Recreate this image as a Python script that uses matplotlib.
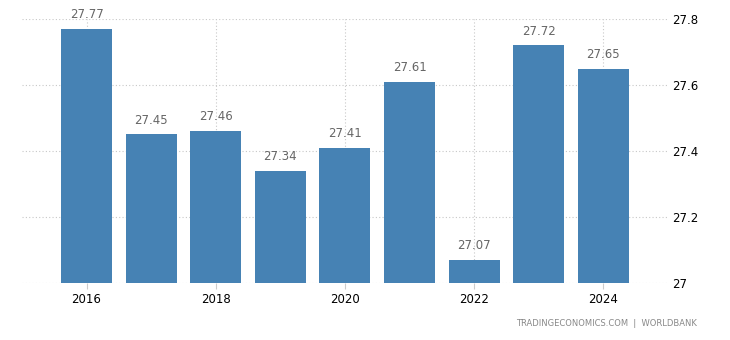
import matplotlib
matplotlib.use("Agg")
import matplotlib.pyplot as plt

years = [2016, 2017, 2018, 2019, 2020, 2021, 2022, 2023, 2024]
values = [27.77, 27.45, 27.46, 27.34, 27.41, 27.61, 27.07, 27.72, 27.65]
xticks = [2016, 2018, 2020, 2022, 2024]
yticks = [27.0, 27.2, 27.4, 27.6, 27.8]
ytick_labels = ["27", "27.2", "27.4", "27.6", "27.8"]

plt.rcParams['font.family'] = ['DejaVu Sans']
fig = plt.figure(figsize=(7.3, 3.4), dpi=100)
ax = fig.add_axes([0.030, 0.168, 0.885, 0.776])

ax.bar(years, [v - 27.0 for v in values], bottom=27.0, width=0.79, color="#4682b4", zorder=2)
for x, v in zip(years, values):
    ax.text(x, v + 0.024, f"{v:.2f}", ha="center", va="bottom", fontsize=8.5, color="#666666", zorder=3)

ax.set_xlim(2015, 2025)
ax.set_ylim(27.0, 27.8)
ax.set_xticks(xticks)
ax.set_xticklabels([str(t) for t in xticks], fontsize=8.5)
ax.set_yticks(yticks)
ax.set_yticklabels(ytick_labels, fontsize=8.5)
ax.yaxis.tick_right()
ax.tick_params(axis="y", length=0, pad=3)
ax.tick_params(axis="x", length=4, color="#cccccc", pad=3)
ax.grid(True, axis="both", linestyle=(0, (1, 2)), color="#c8c8c8", linewidth=0.8, zorder=0)
for s in ax.spines.values():
    s.set_visible(False)
ax.set_axisbelow(True)

fig.text(0.955, 0.035, "TRADINGECONOMICS.COM  |  WORLDBANK", ha="right", va="bottom", fontsize=6.0, color="#888888")

fig.savefig("out.png", dpi=100)
